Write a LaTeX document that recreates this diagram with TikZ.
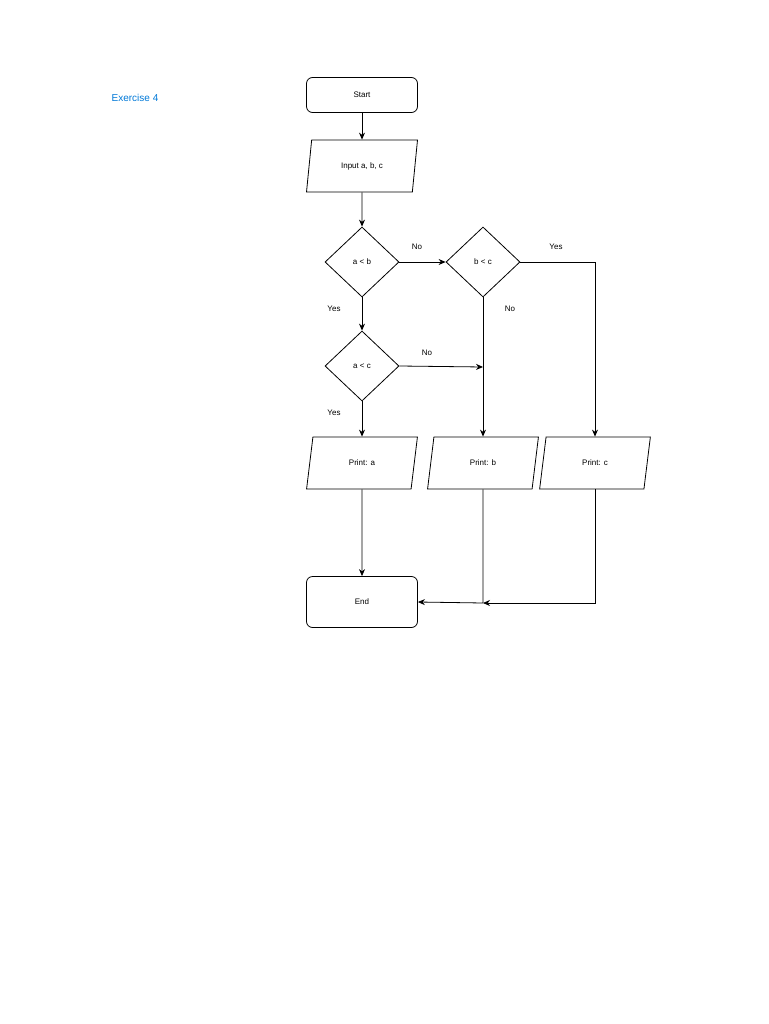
\documentclass[tikz,border=0pt]{standalone}
\usepackage{fontspec}
\setmainfont{Liberation Sans}
\usetikzlibrary{shapes.geometric,arrows.meta}
\definecolor{exblue}{RGB}{0,120,215}
\begin{document}
\begin{tikzpicture}[x=1pt,y=-1pt,
  base/.style={draw,line width=0.8pt,font=\fontsize{8}{10}\selectfont,inner sep=0pt},
  term/.style={base,rectangle,rounded corners=6pt,minimum width=111pt,minimum height=35pt},
  io/.style={base,trapezium,trapezium left angle=74,trapezium right angle=106,trapezium stretches=true,minimum width=111pt,minimum height=52pt},
  dec/.style={base,diamond,aspect=1.06,minimum width=74pt,minimum height=70pt},
  arr/.style={line width=0.8pt,-{Stealth[length=7pt,width=6pt]}},
  ln/.style={line width=0.8pt},
  lab/.style={font=\fontsize{8}{10}\selectfont}]
\useasboundingbox (0,0) rectangle (768,1024);
\node[font=\fontsize{10}{12}\selectfont,text=exblue] (ex) at (135,98) {Exercise 4};
\node[term] (start) at (362,95) {Start};
\node[term,minimum height=51pt] (end) at (362,602) {End};
\node[io] (in) at (362,166) {Input a, b, c};
\node[dec] (ab) at (362,262) {a < b};
\node[dec] (bc) at (483,262) {b < c};
\node[dec] (ac) at (362,366) {a < c};
\node[io] (pa) at (362,463) {Print: a};
\node[io] (pb) at (483,463) {Print: b};
\node[io] (pc) at (595,463) {Print: c};
\coordinate (j1) at (483,367);
\coordinate (j2) at (483,603);
\draw[arr] (start) -- (in);
\draw[arr] (in) -- (ab);
\draw[arr] (ab) -- (bc);
\draw[arr] (ab) -- (ac);
\draw[arr] (ac) -- (pa);
\draw[arr] (ac.east) -- (j1);
\draw[arr] (bc) -- (pb);
\draw[arr] (bc.east) -| (pc.north);
\draw[arr] (pa) -- (end);
\draw[arr] (pb.south) -- (j2) -- (end.east);
\draw[arr] (pc.south) |- (j2);
\node[lab] (l1) at (417,247) {No};
\node[lab] (l2) at (334,309) {Yes};
\node[lab] (l3) at (427,353) {No};
\node[lab] (l4) at (334,413) {Yes};
\node[lab] (l5) at (510,309) {No};
\node[lab] (l6) at (556,247) {Yes};
\end{tikzpicture}
\end{document}
